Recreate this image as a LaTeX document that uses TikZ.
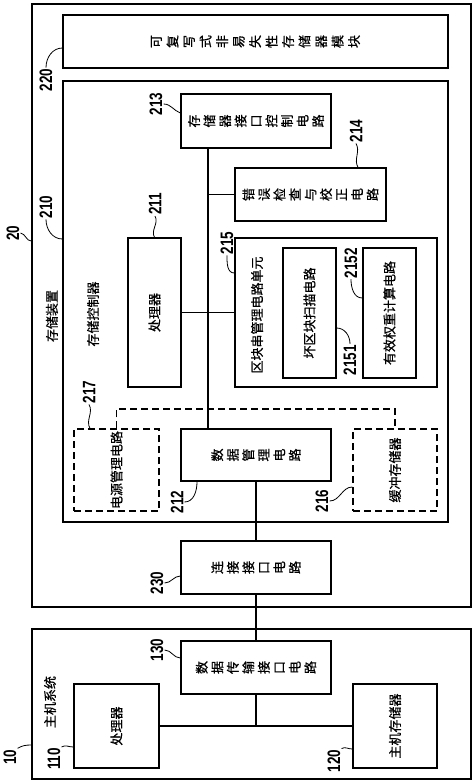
\documentclass[tikz,border=0pt]{standalone}
\usepackage{graphicx}
\usepackage{fontspec}
\newfontfamily\cjk{Noto Sans CJK SC}[FakeBold=0.6]
\newfontfamily\numfont{Liberation Sans}
\usetikzlibrary{positioning}
\newcommand{\lbl}[1]{\rotatebox{90}{\scalebox{0.75}[1]{#1}}}

\begin{document}
\begin{tikzpicture}[x=1pt,y=1pt,
  box/.style={draw, line width=1.3pt, inner sep=0pt},
  dbox/.style={box, dash pattern=on 7pt off 4pt},
  wire/.style={line width=1.3pt},
  txt/.style={font=\cjk\fontsize{13}{15.5}\selectfont, rotate=90, align=center, inner sep=0pt},
  num/.style={font=\numfont\bfseries\fontsize{18}{18}\selectfont, inner sep=1pt},
  lead/.style={line width=0.8pt}]
\useasboundingbox (0,0) rectangle (474,-782);

% storage device
\node[box, minimum width=439, minimum height=603] (n20) at (251.5,-305.5) {};
\node[box, minimum width=385, minimum height=53] (n220) at (255.5,-41.5) {};
\node[box, minimum width=385, minimum height=441] (n210) at (255.5,-301.5) {};
\node[box, minimum width=150, minimum height=54] (n213) at (256,-121) {};
\node[box, minimum width=151, minimum height=53] (n214) at (310.5,-194.5) {};
\node[box, minimum width=53, minimum height=149] (n211) at (154.5,-312.5) {};
\node[box, minimum width=202, minimum height=149] (n215) at (336,-312.5) {};
\node[box, minimum width=53, minimum height=130] (n2151) at (309.5,-313) {};
\node[box, minimum width=53, minimum height=130] (n2152) at (389.5,-313) {};
\node[dbox, minimum width=85, minimum height=82] (n217) at (116.5,-470) {};
\node[box, minimum width=150, minimum height=52] (n212) at (256,-455) {};
\node[dbox, minimum width=84, minimum height=82] (n216) at (395,-470) {};
\node[box, minimum width=150, minimum height=53] (n230) at (256,-567.5) {};
% host system
\node[box, minimum width=439, minimum height=150] (n10) at (251.5,-704) {};
\node[box, minimum width=150, minimum height=53] (n130) at (256,-667.5) {};
\node[box, minimum width=85, minimum height=84] (n110) at (116.5,-726) {};
\node[box, minimum width=84, minimum height=84] (n120) at (395,-726) {};

% texts
\node[txt, font=\cjk\fontsize{13}{16.5}\selectfont] (t220) at (n220) {可\\复\\写\\式\\非\\易\\失\\性\\存\\储\\器\\模\\块};
\node[txt] (t213) at (n213) {存\\储\\器\\接\\口\\控\\制\\电\\路};
\node[txt] (t214) at (n214) {错\\误\\检\\查\\与\\校\\正\\电\\路};
\node[txt] (t211) at (n211) {处理器};
\node[txt] (t215) at (257,-315) {区块串管理电路单元};
\node[txt] (t2151) at (n2151) {坏区块扫描电路};
\node[txt] (t2152) at (n2152) {有效权重计算电路};
\node[txt] (t217) at (n217) {电源管理电路};
\node[txt] (t212) at (n212) {数\\据\\管\\理\\电\\路};
\node[txt] (t216) at (n216) {缓冲存储器};
\node[txt] (t230) at (n230) {连\\接\\接\\口\\电\\路};
\node[txt] (t130) at (n130) {数\\据\\传\\输\\接\\口\\电\\路};
\node[txt] (t110) at (n110) {处理器};
\node[txt] (t120) at (n120) {主机存储器};
\node[txt] (t20) at (52,-316) {存储装置};
\node[txt] (t210) at (93,-314) {存储控制器};
\node[txt] (t10) at (50,-702) {主机系统};

% connections
\coordinate (bus) at (208,0);
\draw[wire] (n213.south -| bus) -- (n212.north -| bus);
\draw[wire] (bus |- n214.west) -- (n214.west);
\draw[wire] (n211.east) -- (n215.west);
\draw[wire] (n212.south) -- (n230.north);
\draw[wire] (n230.south) -- (n130.north);
\draw[wire] (n130.south) -- (n130.south |- n110.east);
\draw[wire] (n110.east) -- (n120.west);
\coordinate (pwr) at (0,-409);
\draw[wire, dash pattern=on 7pt off 4pt] (n217.north) -- (n217.north |- pwr) -- (n216.north |- pwr) -- (n216.north);

% reference numbers
\node[num] (l20) at (13,-233) {\lbl{20}};
\node[num] (l220) at (46,-80) {\lbl{220}};
\node[num] (l210) at (46,-207) {\lbl{210}};
\node[num] (l213) at (156,-104) {\lbl{213}};
\node[num] (l214) at (356,-131) {\lbl{214}};
\node[num] (l211) at (155,-204) {\lbl{211}};
\node[num] (l215) at (227,-243) {\lbl{215}};
\node[num] (l2152) at (351,-263) {\lbl{2152}};
\node[num] (l2151) at (350,-360) {\lbl{2151}};
\node[num] (l217) at (89,-392) {\lbl{217}};
\node[num] (l212) at (177,-502) {\lbl{212}};
\node[num] (l216) at (322,-501) {\lbl{216}};
\node[num] (l230) at (157,-583) {\lbl{230}};
\node[num] (l130) at (157,-650) {\lbl{130}};
\node[num] (l10) at (10,-757) {\lbl{10}};
\node[num] (l110) at (54,-759) {\lbl{110}};
\node[num] (l120) at (334,-761) {\lbl{120}};

% leaders
\draw[lead] (l20.east) to[out=-10,in=180] ([yshift=64.5]n20.west);
\draw[lead] (l220.north) to[out=90,in=180] ([yshift=-6.5]n220.west);
\draw[lead] (l210.south) to[out=-90,in=180] ([yshift=62.5]n210.west);
\draw[lead] (l213.east) to[out=0,in=160] ([yshift=8]n213.west);
\draw[lead] (l214.south) to[out=-60,in=120] ([xshift=47.5]n214.north);
\draw[lead] (l211.south) to[out=-60,in=120] (n211.north);
\draw[lead] (l215.south) to[out=-90,in=180] ([yshift=39.5]n215.west);
\draw[lead] (l2152.south) to[out=-90,in=180] ([yshift=15]n2152.west);
\draw[lead] (l2151.north) to[out=90,in=0] ([yshift=-15]n2151.east);
\draw[lead] (l217.south) to[out=-60,in=120] ([xshift=-26.5]n217.north);
\draw[lead] (l212.east) to[out=0,in=-90] ([xshift=-59]n212.south);
\draw[lead] (l216.east) to[out=0,in=180] ([yshift=-17]n216.west);
\draw[lead] (l230.east) to[out=0,in=180] ([yshift=-8.5]n230.west);
\draw[lead] (l130.east) to[out=0,in=180] ([yshift=9.5]n130.west);
\draw[lead] (l10.north east) to[out=30,in=180] ([yshift=-41]n10.west);
\draw[lead] (l110.north east) to[out=30,in=180] ([yshift=-21]n110.west);
\draw[lead] (l120.north east) to[out=30,in=180] ([yshift=-23]n120.west);
\end{tikzpicture}
\end{document}
